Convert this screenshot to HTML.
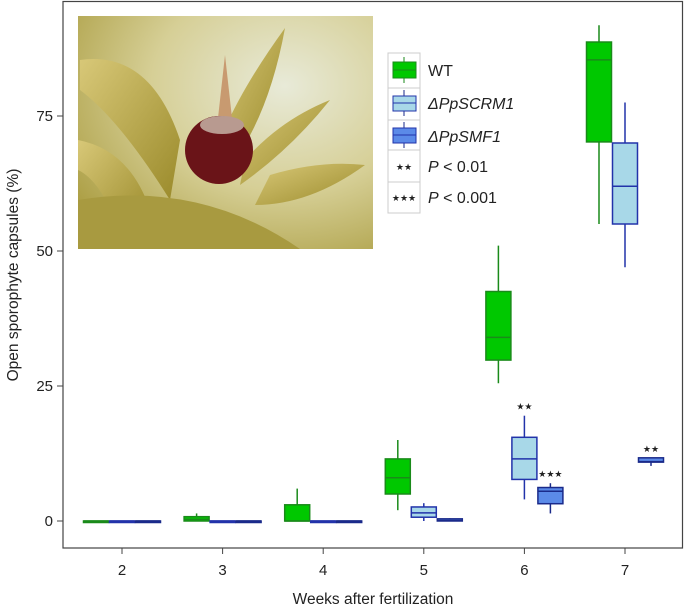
<!DOCTYPE html>
<html><head><meta charset="utf-8"><style>
body{margin:0;background:#fff;}
svg{display:block;font-family:"Liberation Sans",sans-serif;}
</style></head><body>
<svg id="chart" width="685" height="610">
<defs>
<radialGradient id="bg" cx="0.7" cy="0.3" r="0.9"><stop offset="0" stop-color="#e8ead8"/><stop offset="0.5" stop-color="#d6cf96"/><stop offset="1" stop-color="#a89a3c"/></radialGradient>
<linearGradient id="leaf" x1="0" y1="0" x2="1" y2="1"><stop offset="0" stop-color="#d8c878"/><stop offset="1" stop-color="#9a8a2a"/></linearGradient>
</defs>
<g>
<rect x="78" y="16" width="295" height="233" fill="url(#bg)"/>
<path d="M80 60 Q150 50 180 140 L170 200 Q120 120 80 90Z" fill="url(#leaf)"/>
<path d="M78 140 Q130 150 150 210 L120 230 Q100 180 78 170Z" fill="url(#leaf)"/>
<path d="M285 28 Q270 110 235 160 L220 140 Q240 90 285 28Z" fill="url(#leaf)"/>
<path d="M330 100 Q290 150 240 185 L245 160 Q280 120 330 100Z" fill="url(#leaf)"/>
<path d="M365 165 Q310 205 255 205 L270 175 Q320 160 365 165Z" fill="url(#leaf)"/>
<path d="M78 200 Q200 180 300 249 L78 249Z" fill="#a89a40"/>
<path d="M225 55 L232 118 L218 118Z" fill="#c89a70"/>
<circle cx="219" cy="150" r="34" fill="#6a1418"/>
<ellipse cx="222" cy="125" rx="22" ry="9" fill="#b89a90"/>
</g>
<g id="axes"></g>
<g id="marks"></g>
<g font-size="16" fill="#222">
<rect x="388" y="53" width="32" height="160" fill="#fff" stroke="#ccc"/>
<line x1="388" y1="88" x2="420" y2="88" stroke="#ccc"/><line x1="388" y1="120" x2="420" y2="120" stroke="#ccc"/><line x1="388" y1="150" x2="420" y2="150" stroke="#ccc"/><line x1="388" y1="182" x2="420" y2="182" stroke="#ccc"/>
<g><line x1="404" y1="57" x2="404" y2="83" stroke="#1a8a1a"/><rect x="393" y="62" width="23" height="16" fill="#00c800" stroke="#1a8a1a"/><line x1="393" y1="70" x2="416" y2="70" stroke="#1a8a1a"/><text x="428" y="76">WT</text></g>
<g><line x1="404" y1="90" x2="404" y2="116" stroke="#1a2a8a"/><rect x="393" y="96" width="23" height="15" fill="#a8d8e8" stroke="#2233aa"/><line x1="393" y1="103" x2="416" y2="103" stroke="#2233aa"/><text x="428" y="109" font-style="italic">ΔPpSCRM1</text></g>
<g><line x1="404" y1="122" x2="404" y2="148" stroke="#1a2a8a"/><rect x="393" y="128" width="23" height="15" fill="#5b8ae8" stroke="#2233aa"/><line x1="393" y1="135" x2="416" y2="135" stroke="#2233aa"/><text x="428" y="142" font-style="italic">ΔPpSMF1</text></g>
<g><text x="404" y="170" font-size="9" text-anchor="middle">★★</text><text x="428" y="172"><tspan font-style="italic">P</tspan> &lt; 0.01</text></g>
<g><text x="404" y="201" font-size="9" text-anchor="middle">★★★</text><text x="428" y="203"><tspan font-style="italic">P</tspan> &lt; 0.001</text></g>
</g>
</svg>
<script>
const weeks=[2,3,4,5,6,7];
// [min,q1,median,q3,max]
const wtStats=[[0,0,0,0,0],[0,0,0.3,0.8,1.4],[0,0,0,3,6],[2,5,8,11.5,15],[25.5,29.8,34,42.5,51],[55,70.2,85.4,88.7,91.8]];
const scrmStats=[[0,0,0,0,0],[0,0,0,0,0],[0,0,0,0,0],[0,0.7,1.5,2.6,3.3],[4,7.7,11.5,15.5,19.5],[47,55,62,70,77.5]];
const smfStats=[[0,0,0,0,0],[0,0,0,0,0],[0,0,0,0,0],[0,0,0.1,0.4,0.5],[1.4,3.2,5.5,6.2,7],[10.2,10.9,11,11.7,11.7]];
const yTicks=[0,25,50,75];
const sigLabels=[{series:1,week:6,text:"★★"},{series:2,week:6,text:"★★★"},{series:2,week:7,text:"★★"}];
const NS="http://www.w3.org/2000/svg";
const X=w=>122+(w-2)*100.6;
const Y=v=>521-v*5.4;
function mk(t,a,p){const e=document.createElementNS(NS,t);for(const k in a)e.setAttribute(k,a[k]);p.appendChild(e);return e;}
const ax=document.getElementById('axes'),mg=document.getElementById('marks');
const frame=mk('rect',{x:63,y:1.5,width:619.5,height:546.5,fill:'none',stroke:'#444','stroke-width':1.2},ax);


yTicks.forEach(v=>{
 const l=mk('line',{x1:57,x2:63,y1:Y(v),y2:Y(v),stroke:'#444'},ax);
 
 
 const t=mk('text',{x:53,y:Y(v)+5,'text-anchor':'end','font-size':15,fill:'#222'},ax);t.textContent=v;
 
 
});
weeks.forEach(w=>{
 const l=mk('line',{x1:X(w),x2:X(w),y1:548,y2:554,stroke:'#444'},ax);
 
 
 const t=mk('text',{x:X(w),y:575,'text-anchor':'middle','font-size':15,fill:'#222'},ax);t.textContent=w;
 
 
});
const xt=mk('text',{x:373,y:604,'text-anchor':'middle','font-size':15.5,fill:'#222'},ax);xt.textContent='Weeks after fertilization';


const yt=mk('text',{x:0,y:0,transform:'translate(18,275) rotate(-90)','text-anchor':'middle','font-size':15.5,fill:'#222'},ax);yt.textContent='Open sporophyte capsules (%)';


const series=[{d:wtStats,off:-26,fill:'#00c800',st:'#1a8a1a',name:'wt'},{d:scrmStats,off:0,fill:'#a8d8e8',st:'#2233aa',name:'scrm1'},{d:smfStats,off:26,fill:'#5b8ae8',st:'#1a2a8a',name:'smf1'}];
series.forEach(s=>{
 s.d.forEach((q,i)=>{
  const cx=X(weeks[i])+s.off;
  const g=mk('g',{},mg);
  
  
  mk('line',{x1:cx,x2:cx,y1:Y(q[0]),y2:Y(q[4]),stroke:s.st,'stroke-width':1.5},g);
  const h=Math.max(Y(q[1])-Y(q[3]),1.5);
  mk('rect',{x:cx-12.5,y:Y(q[3]),width:25,height:h,fill:s.fill,stroke:s.st,'stroke-width':1.5},g);
  mk('line',{x1:cx-12.5,x2:cx+12.5,y1:Y(q[2]),y2:Y(q[2]),stroke:s.st,'stroke-width':1.5},g);
 });
});
sigLabels.forEach(a=>{
 const s=series[a.series];const q=s.d[weeks.indexOf(a.week)];
 const t=mk('text',{x:X(a.week)+s.off,y:Y(q[4])-6,'text-anchor':'middle','font-size':9,fill:'#222'},mg);t.textContent=a.text;
 
 
});
</script>
</body></html>
